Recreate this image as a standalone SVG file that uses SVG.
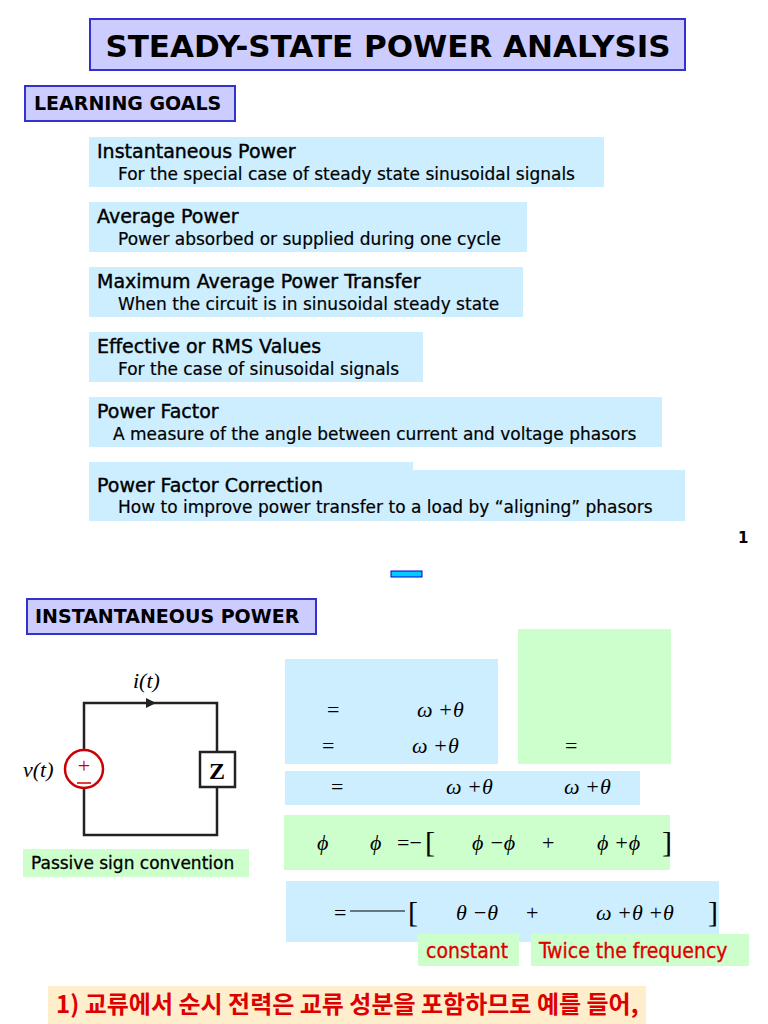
<svg xmlns="http://www.w3.org/2000/svg" width="768" height="1024" viewBox="0 0 768 1024">
<style>
.hd{fill:#ccccff;stroke:#3333cc;stroke-width:2}
.bl{fill:#cceeff}
.gr{fill:#ccffcc}
.t{font-family:"DejaVu Sans",sans-serif;fill:#000}
.ti{font-size:19px;font-weight:500;stroke:#000;stroke-width:0.4}
.su{font-size:17px;stroke:#000;stroke-width:0.2}
.m{font-family:"Liberation Serif",serif;font-size:22px;font-style:italic;fill:#000}
.n{font-style:normal}
.br{font-style:normal;font-size:30px}
.r{font-family:"DejaVu Sans Condensed","DejaVu Sans",sans-serif;fill:#e00000;font-size:21px;stroke:#e00000;stroke-width:0.3}
.w{fill:none;stroke:#222;stroke-width:2.5}
</style>
<rect width="768" height="1024" fill="#fff"/>
<g id="title"><rect class="hd" x="90" y="19" width="595" height="51"/><text class="t" x="388" y="57" font-size="31" font-weight="bold" text-anchor="middle">STEADY-STATE POWER ANALYSIS</text></g>
<g id="goals"><rect class="hd" x="25" y="86" width="210" height="35"/><text class="t" x="34" y="110" font-size="19" font-weight="bold">LEARNING GOALS</text></g>
<g id="g1"><rect class="bl" x="89" y="137" width="515" height="50"/><text class="t ti" x="97" y="158">Instantaneous Power</text><text class="t su" x="118" y="180">For the special case of steady state sinusoidal signals</text></g>
<g id="g2"><rect class="bl" x="89" y="202" width="438" height="50"/><text class="t ti" x="97" y="223">Average Power</text><text class="t su" x="118" y="245">Power absorbed or supplied during one cycle</text></g>
<g id="g3"><rect class="bl" x="89" y="267" width="434" height="50"/><text class="t ti" x="97" y="288">Maximum Average Power Transfer</text><text class="t su" x="118" y="310">When the circuit is in sinusoidal steady state</text></g>
<g id="g4"><rect class="bl" x="89" y="332" width="334" height="50"/><text class="t ti" x="97" y="353">Effective or RMS Values</text><text class="t su" x="118" y="375">For the case of sinusoidal signals</text></g>
<g id="g5"><rect class="bl" x="89" y="397" width="573" height="50"/><text class="t ti" x="97" y="418">Power Factor</text><text class="t su" x="113" y="440">A measure of the angle between current and voltage phasors</text></g>
<g id="g6"><rect class="bl" x="89" y="462" width="324" height="20"/><rect class="bl" x="89" y="470" width="596" height="51"/><text class="t ti" x="97" y="492">Power Factor Correction</text><text class="t su" x="118" y="513">How to improve power transfer to a load by “aligning” phasors</text></g>
<text class="t" x="738" y="543" font-size="15" font-weight="bold">1</text>
<rect x="391" y="571" width="31" height="6" fill="#00ccff" stroke="#0000cc"/>
<g id="inst"><rect class="hd" x="27" y="599" width="289" height="35"/><text class="t" x="35" y="623" font-size="19" font-weight="bold">INSTANTANEOUS POWER</text></g>
<g id="circuit">
<path class="w" d="M84,750 V703 H217 V752 M217,787 V835 H84 V788"/>
<path d="M146,698 L156,703 L146,708 Z" fill="#222"/>
<circle cx="84" cy="769" r="19" fill="#fff" stroke="#cc0000" stroke-width="2.5"/>
<text x="84" y="773" font-family="Liberation Serif,serif" font-size="22" fill="#cc0000" text-anchor="middle">+</text>
<line x1="77" y1="783" x2="91" y2="783" stroke="#cc0000" stroke-width="1.5"/>
<rect x="200" y="752" width="35" height="35" fill="#fff" stroke="#222" stroke-width="2.5"/>
<text x="217" y="779" font-family="Liberation Serif,serif" font-size="24" font-weight="bold" text-anchor="middle">Z</text>
<text class="m" x="133" y="688">i(t)</text>
<text class="m" x="23" y="777">v(t)</text>
</g>
<g id="psc"><rect class="gr" x="23" y="849" width="226" height="28"/><text class="t" x="31" y="869" font-size="17" stroke="#000" stroke-width="0.3">Passive sign convention</text></g>
<g id="eq">
<rect class="bl" x="285" y="659" width="213" height="105"/>
<rect class="gr" x="518" y="629" width="153" height="135"/>
<rect class="bl" x="285" y="771" width="355" height="34"/>
<rect class="gr" x="284" y="815" width="386" height="55"/>
<rect class="bl" x="286" y="881" width="433" height="61"/>
<text class="m n" x="327" y="717">=</text><text class="m" x="417" y="717">ω  +θ</text>
<text class="m n" x="322" y="753">=</text><text class="m" x="412" y="753">ω  +θ</text>
<text class="m n" x="565" y="753">=</text>
<text class="m n" x="331" y="794">=</text><text class="m" x="446" y="794">ω  +θ</text><text class="m" x="564" y="794">ω  +θ</text>
<text class="m" x="317" y="850">ϕ</text><text class="m" x="370" y="850">ϕ</text><text class="m n" x="397" y="850">=−</text><text class="m br" x="425" y="852">[</text><text class="m" x="472" y="850">ϕ −ϕ</text><text class="m n" x="542" y="850">+</text><text class="m" x="597" y="850">ϕ +ϕ</text><text class="m br" x="662" y="852">]</text>
<text class="m n" x="334" y="920">=</text><line x1="350" y1="911" x2="405" y2="911" stroke="#000" stroke-width="1.2"/><text class="m br" x="408" y="922">[</text>
<text class="m" x="456" y="920">θ −θ</text><text class="m n" x="526" y="920">+</text><text class="m" x="596" y="920">ω  +θ +θ</text><text class="m br" x="708" y="922">]</text>
</g>
<g id="const"><rect class="gr" x="418" y="934" width="101" height="32"/><text class="r" x="426" y="958">constant</text></g>
<g id="twice"><rect class="gr" x="531" y="934" width="218" height="32"/><text class="r" x="539" y="958">Twice the frequency</text></g>
<g id="note"><rect x="48" y="986" width="598" height="38" fill="#ffeecc"/><text x="56" y="1013" font-family="Noto Sans CJK KR,sans-serif" font-size="24" font-weight="bold" fill="#dd0000">1) 교류에서 순시 전력은 교류 성분을 포함하므로 예를 들어,</text></g>
</svg>
